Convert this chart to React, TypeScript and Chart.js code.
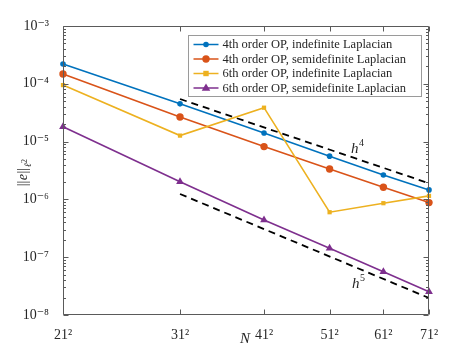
import React, { useEffect, useRef } from "react";
import { Chart, registerables } from "chart.js";

Chart.register(...registerables);

// ---- data ----
const nValues = [441, 961, 1681, 2601, 3721, 5041];
const nTickLabels = ["21²", "31²", "41²", "51²", "61²", "71²"];
const yTickValues = [1e-8, 1e-7, 1e-6, 1e-5, 1e-4, 1e-3];
const yTickLabels = ["10⁻⁸", "10⁻⁷", "10⁻⁶", "10⁻⁵", "10⁻⁴", "10⁻³"];

const seriesLabels = [
  "4th order OP, indefinite Laplacian",
  "4th order OP, semidefinite Laplacian",
  "6th order OP, indefinite Laplacian",
  "6th order OP, semidefinite Laplacian",
];
const op4Indef = [2.2e-4, 4.5e-5, 1.41e-5, 5.6e-6, 2.64e-6, 1.46e-6];
const op4Semi = [1.48e-4, 2.67e-5, 8.2e-6, 3.36e-6, 1.62e-6, 8.8e-7];
const op6Indef = [9.5e-5, 1.27e-5, 3.86e-5, 6.0e-7, 8.6e-7, 1.15e-6];
const op6Semi = [1.81e-5, 2.02e-6, 4.4e-7, 1.43e-7, 5.6e-8, 2.53e-8];

const refN = [961, 5041];
const refH4 = [5.46e-5, 1.9e-6];
const refH5 = [1.24e-6, 1.97e-8];
const refLabelN = [3120, 3140];
const refLabelY = [7.7e-6, 3.6e-8];
const refLabelExp = ["4", "5"];

const colors = ["#0072BD", "#D95319", "#EDB120", "#7E2F8E"];
const pointStyles = ["circle", "circle", "rect", "triangle"];
const pointRadii = [2.8, 3.7, 3, 4.5];

const AXIS = "#5a5a5a";
const TEXT = "#262626";
const SERIF = "'Liberation Serif', 'DejaVu Serif', serif";

function drawMarker(ctx: CanvasRenderingContext2D, style: string, x: number, y: number, r: number, color: string) {
  ctx.fillStyle = color;
  ctx.beginPath();
  if (style === "circle") {
    ctx.arc(x, y, r, 0, Math.PI * 2);
  } else if (style === "rect") {
    const s = r * 0.9;
    ctx.rect(x - s, y - s, 2 * s, 2 * s);
  } else {
    ctx.moveTo(x, y - r);
    ctx.lineTo(x + r * 0.95, y + r * 0.6);
    ctx.lineTo(x - r * 0.95, y + r * 0.6);
    ctx.closePath();
  }
  ctx.fill();
}

const decorPlugin = {
  id: "decor",
  afterDraw(chart: any) {
    const { ctx, chartArea: a, scales } = chart;
    const xs = scales.x;
    const ys = scales.y;
    ctx.save();

    // axes box
    ctx.strokeStyle = AXIS;
    ctx.lineWidth = 1;
    const L = Math.round(a.left) + 0.5;
    const R = Math.round(a.right) - 0.5;
    const T = Math.round(a.top) + 0.5;
    const B = Math.round(a.bottom) - 0.5;
    ctx.beginPath();
    ctx.rect(L, T, R - L, B - T);
    ctx.stroke();

    // x ticks (bottom & top, inward)
    ctx.beginPath();
    nValues.forEach((v) => {
      const px = Math.round(xs.getPixelForValue(v)) + 0.5;
      ctx.moveTo(px, B);
      ctx.lineTo(px, B - 5);
      ctx.moveTo(px, T);
      ctx.lineTo(px, T + 5);
    });
    // y major ticks
    yTickValues.forEach((v) => {
      const py = Math.round(ys.getPixelForValue(v)) + 0.5;
      ctx.moveTo(L, py);
      ctx.lineTo(L + 5, py);
      ctx.moveTo(R, py);
      ctx.lineTo(R - 5, py);
    });
    // y minor ticks
    for (let e = -8; e < -3; e++) {
      for (let m = 2; m <= 9; m++) {
        const py = Math.round(ys.getPixelForValue(m * Math.pow(10, e))) + 0.5;
        ctx.moveTo(L, py);
        ctx.lineTo(L + 2.5, py);
        ctx.moveTo(R, py);
        ctx.lineTo(R - 2.5, py);
      }
    }
    ctx.stroke();

    // reference labels h^4, h^5
    ctx.fillStyle = TEXT;
    ctx.textBaseline = "alphabetic";
    refLabelN.forEach((n, i) => {
      const px = xs.getPixelForValue(n);
      const py = ys.getPixelForValue(refLabelY[i]);
      ctx.font = `italic 15px ${SERIF}`;
      const w = ctx.measureText("h").width;
      ctx.textAlign = "left";
      ctx.fillText("h", px - 6, py + 5);
      ctx.font = `10px ${SERIF}`;
      ctx.fillText(refLabelExp[i], px - 6 + w + 0.5, py - 2);
    });

    // x axis title
    ctx.font = `italic 15px ${SERIF}`;
    ctx.textAlign = "center";
    ctx.fillText("N", (a.left + a.right) / 2 - 1, 343);

    // y axis title ||e||_{l2}
    ctx.save();
    ctx.translate(27, (a.top + a.bottom) / 2 + 2);
    ctx.rotate(-Math.PI / 2);
    ctx.textAlign = "left";
    ctx.font = `14px ${SERIF}`;
    const wBars = ctx.measureText("||").width;
    ctx.font = `italic 14px ${SERIF}`;
    const wE = ctx.measureText("e").width;
    ctx.font = `italic 10px ${SERIF}`;
    const wL = ctx.measureText("ℓ").width;
    ctx.font = `8px ${SERIF}`;
    const w2 = ctx.measureText("2").width;
    const total = wBars * 2 + wE + wL + w2 + 2;
    let cx = -total / 2;
    ctx.font = `14px ${SERIF}`;
    ctx.fillText("||", cx, 0);
    cx += wBars + 0.5;
    ctx.font = `italic 14px ${SERIF}`;
    ctx.fillText("e", cx, 0);
    cx += wE + 0.5;
    ctx.font = `14px ${SERIF}`;
    ctx.fillText("||", cx, 0);
    cx += wBars + 0.5;
    ctx.font = `italic 10px ${SERIF}`;
    ctx.fillText("ℓ", cx, 4);
    cx += wL + 0.3;
    ctx.font = `8px ${SERIF}`;
    ctx.fillText("2", cx, 0);
    ctx.restore();

    // legend
    const lw = 233;
    const lh = 61;
    const lx = Math.round(a.right - 8 - lw) + 0.5;
    const ly = Math.round(a.top + 9) + 0.5;
    ctx.fillStyle = "#ffffff";
    ctx.fillRect(lx, ly, lw, lh);
    ctx.strokeStyle = "#9a9a9a";
    ctx.lineWidth = 1;
    ctx.strokeRect(lx, ly, lw, lh);
    ctx.font = `12.5px ${SERIF}`;
    ctx.textAlign = "left";
    ctx.textBaseline = "middle";
    seriesLabels.forEach((lab, i) => {
      const ry = ly + 9 + i * 14.5;
      ctx.strokeStyle = colors[i];
      ctx.lineWidth = 1.5;
      ctx.beginPath();
      ctx.moveTo(lx + 5, ry);
      ctx.lineTo(lx + 30, ry);
      ctx.stroke();
      drawMarker(ctx, pointStyles[i], lx + 17.5, ry, pointRadii[i], colors[i]);
      ctx.fillStyle = TEXT;
      ctx.fillText(lab, lx + 34, ry + 0.5);
    });

    ctx.restore();
  },
};

export default function App() {
  const ref = useRef<HTMLCanvasElement | null>(null);

  useEffect(() => {
    if (!ref.current) return;
    const series = [op4Indef, op4Semi, op6Indef, op6Semi];
    const dataDatasets = series.map((vals, i) => ({
      label: seriesLabels[i],
      data: vals.map((v, k) => ({ x: nValues[k], y: v })),
      borderColor: colors[i],
      backgroundColor: colors[i],
      pointBackgroundColor: colors[i],
      pointBorderColor: colors[i],
      pointBorderWidth: 0,
      pointStyle: pointStyles[i] as any,
      pointRadius: pointRadii[i],
      borderWidth: 1.6,
      tension: 0,
      clip: false as any,
      order: 4 - i,
    }));
    const refDatasets = [refH4, refH5].map((vals, i) => ({
      label: i === 0 ? "h4" : "h5",
      data: vals.map((v, k) => ({ x: refN[k], y: v })),
      borderColor: "#000000",
      borderWidth: 1.8,
      borderDash: [7, 5],
      pointRadius: 0,
      order: 10,
    }));

    const chart = new Chart(ref.current, {
      type: "line",
      data: { datasets: [...dataDatasets, ...refDatasets] as any },
      options: {
        animation: false,
        responsive: true,
        maintainAspectRatio: false,
        events: [],
        layout: { padding: { left: 0, right: 45, top: 26, bottom: 0 } },
        plugins: {
          legend: { display: false },
          tooltip: { enabled: false },
          title: { display: false },
        },
        scales: {
          x: {
            type: "logarithmic",
            min: 441,
            max: 5041,
            grid: { display: false },
            border: { display: false },
            afterBuildTicks: (scale: any) => {
              scale.ticks = nValues.map((v) => ({ value: v }));
            },
            afterFit: (scale: any) => {
              scale.height = 40;
            },
            ticks: {
              autoSkip: false,
              maxRotation: 0,
              padding: 4,
              color: TEXT,
              font: { family: SERIF, size: 14 },
              callback: (_v: any, idx: number) => nTickLabels[idx],
            },
          },
          y: {
            type: "logarithmic",
            min: 1e-8,
            max: 1e-3,
            grid: { display: false },
            border: { display: false },
            afterBuildTicks: (scale: any) => {
              scale.ticks = yTickValues.map((v) => ({ value: v }));
            },
            afterFit: (scale: any) => {
              scale.width = 63;
            },
            ticks: {
              autoSkip: false,
              padding: 6,
              color: TEXT,
              font: { family: SERIF, size: 14 },
              callback: (_v: any, idx: number) => yTickLabels[idx],
            },
          },
        },
      },
      plugins: [decorPlugin],
    });
    return () => chart.destroy();
  }, []);

  return (
    <div style={{ position: "absolute", left: 0, top: 0, width: 474, height: 355, background: "#fff" }}>
      <canvas ref={ref} />
    </div>
  );
}
